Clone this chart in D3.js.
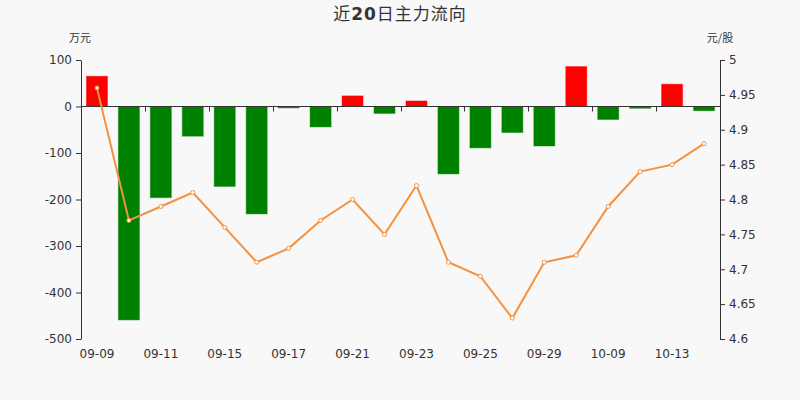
<!DOCTYPE html>
<html>
<head>
<meta charset="utf-8">
<script src="https://cdn.jsdelivr.net/npm/d3@7"></script>
<style>
  body { margin: 0; background: #f8f8f8; }
  svg { display: block; font-family: "DejaVu Sans", sans-serif; }
</style>
</head>
<body>
<svg id="chart" width="800" height="400"></svg>
<script>
// data
var dates = ["09-09","09-10","09-11","09-14","09-15","09-16","09-17","09-18","09-21","09-22",
             "09-23","09-24","09-25","09-28","09-29","09-30","10-09","10-12","10-13","10-14"];
var flow = [66, -460, -197, -65, -173, -232, -4, -45, 24, -16,
            13, -146, -90, -57, -86, 87, -29, -5, 49, -10];
var price = [4.96, 4.77, 4.79, 4.81, 4.76, 4.71, 4.73, 4.77, 4.80, 4.75,
             4.82, 4.71, 4.69, 4.63, 4.71, 4.72, 4.79, 4.84, 4.85, 4.88];
var leftTicks = [100, 0, -100, -200, -300, -400, -500];
var rightTicks = [5, 4.95, 4.9, 4.85, 4.8, 4.75, 4.7, 4.65, 4.6];

var svg = d3.select("#chart"),
    mLeft = 81, mRight = 720, mTop = 60, mBottom = 339;

svg.append("rect").attr("width", 800).attr("height", 400).attr("fill", "#f8f8f8");

var x = d3.scaleBand().domain(dates).range([mLeft, mRight]).paddingInner(0.31).paddingOuter(0.155);
var xb = d3.scaleBand().domain(dates).range([mLeft, mRight]);  // for tick positions
var yL = d3.scaleLinear().domain([-500, 100]).range([mBottom, mTop]);
var yR = d3.scaleLinear().domain([4.6, 5]).range([mBottom, mTop]);

// title
svg.append("text")
    .attr("x", 400).attr("y", 20)
    .attr("text-anchor", "middle")
    .attr("font-size", 17).attr("fill", "#333")
    .attr("font-family", "'Noto Sans CJK SC', sans-serif")
    .attr("letter-spacing", 1)
    .html('近<tspan font-weight="bold" font-family="DejaVu Sans">20</tspan>日主力流向');

// unit labels
svg.append("text").attr("x", 80).attr("y", 42).attr("text-anchor", "middle")
    .attr("font-size", 11).attr("fill", "#333")
    .attr("font-family", "'Noto Sans CJK SC', sans-serif").text("万元");
svg.append("text").attr("x", 720).attr("y", 42).attr("text-anchor", "middle")
    .attr("font-size", 11).attr("fill", "#333")
    .attr("font-family", "'Noto Sans CJK SC', sans-serif").text("元/股");

// bars
svg.append("g").selectAll("rect")
    .data(flow)
  .enter().append("rect")
    .attr("x", function(d, i) { return x(dates[i]); })
    .attr("width", x.bandwidth())
    .attr("y", function(d) { return yL(Math.max(0, d)); })
    .attr("height", function(d) { return Math.abs(yL(d) - yL(0)); })
    .attr("fill", function(d) { return d >= 0 ? "#ff0000" : "#008000"; })
    .attr("stroke", "#ffffff")
    .attr("stroke-opacity", 0.55)
    .attr("stroke-width", 1);

// left axis
var gl = svg.append("g").attr("transform", "translate(" + mLeft + ",0)")
    .call(d3.axisLeft(yL).tickValues(leftTicks).tickSize(5).tickSizeOuter(0).tickPadding(4)
      .tickFormat(function(d) { return String(d); }));
// right axis
var gr = svg.append("g").attr("transform", "translate(" + mRight + ",0)")
    .call(d3.axisRight(yR).tickValues(rightTicks).tickSize(5).tickSizeOuter(0).tickPadding(4)
      .tickFormat(function(d) { return String(+d.toFixed(2)); }));

// zero line with ticks
var gz = svg.append("g").attr("transform", "translate(0," + yL(0) + ")");
gz.append("line").attr("x1", mLeft).attr("x2", mRight).attr("stroke", "#333").attr("stroke-width", 1);
gz.selectAll("line.tk")
    .data(dates.filter(function(d, i) { return i % 2 === 0 && i > 0; }))
  .enter().append("line")
    .attr("class", "tk")
    .attr("x1", function(d) { return Math.round(xb(d)) + 0.5; })
    .attr("x2", function(d) { return Math.round(xb(d)) + 0.5; })
    .attr("y1", 0).attr("y2", 5)
    .attr("stroke", "#333");

// x labels
svg.append("g").selectAll("text")
    .data(dates.filter(function(d, i) { return i % 2 === 0; }))
  .enter().append("text")
    .attr("x", function(d) { return x(d) + x.bandwidth() / 2; })
    .attr("y", 358)
    .attr("text-anchor", "middle")
    .attr("font-size", 12).attr("fill", "#333")
    .text(function(d) { return d; });

[gl, gr].forEach(function(g) {
  g.select(".domain").attr("stroke", "#333");
  g.selectAll(".tick line").attr("stroke", "#333");
  g.selectAll(".tick text").attr("font-size", 12).attr("fill", "#333")
    .attr("font-family", "DejaVu Sans");
});

// price line
var line = d3.line()
    .x(function(d, i) { return x(dates[i]) + x.bandwidth() / 2; })
    .y(function(d) { return yR(d); });

svg.append("path")
    .datum(price)
    .attr("d", line)
    .attr("fill", "none")
    .attr("stroke", "#f5913e")
    .attr("stroke-width", 2);

svg.append("g").selectAll("circle")
    .data(price)
  .enter().append("circle")
    .attr("cx", function(d, i) { return x(dates[i]) + x.bandwidth() / 2; })
    .attr("cy", function(d) { return yR(d); })
    .attr("r", 2)
    .attr("fill", "#fff")
    .attr("stroke", "#f5913e")
    .attr("stroke-width", 1);
</script>
</body>
</html>
